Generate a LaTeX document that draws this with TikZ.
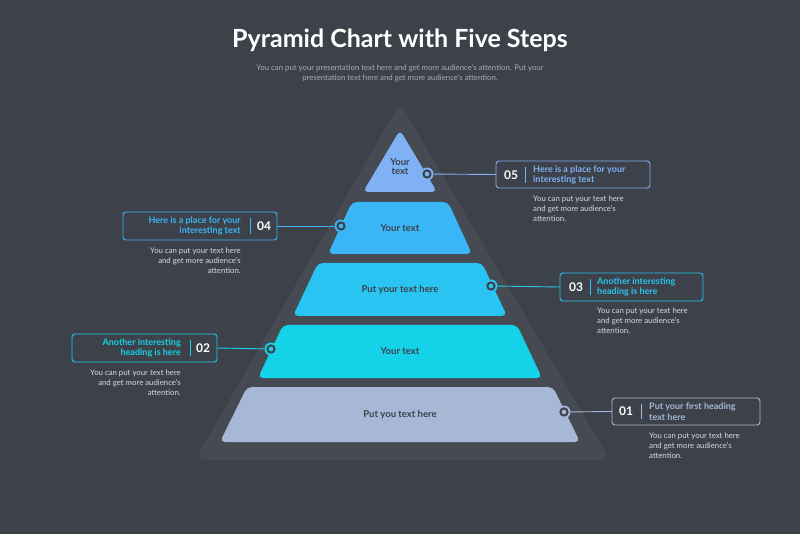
\documentclass[tikz,border=0pt]{standalone}
\usepackage{fontspec}
\setmainfont{Lato}
\definecolor{bg}{HTML}{3D4149}
\definecolor{sh}{HTML}{464B53}
\definecolor{cA}{HTML}{A6B8D6}
\definecolor{cB}{HTML}{14D3E8}
\definecolor{cC}{HTML}{2AC4F2}
\definecolor{cD}{HTML}{3AB6F6}
\definecolor{cE}{HTML}{80B1F5}
\definecolor{bodyc}{HTML}{D8DADD}
\definecolor{subc}{HTML}{A8ACB2}
\begin{document}
\begin{tikzpicture}[x=1pt,y=-1pt,
 lvl/.style={rounded corners=5pt},
 lbl/.style={font=\bfseries\fontsize{9.5}{11}\selectfont,text=bg,align=center},
 num/.style={font=\bfseries\fontsize{12}{14}\selectfont,text=white},
 head/.style={font=\bfseries\fontsize{9}{10.5}\selectfont,inner sep=0pt},
 body/.style={font=\fontsize{7.8}{10}\selectfont,text=bodyc,inner sep=0pt},
 cbox/.style={rounded corners=3pt,line width=0.9pt},
 mk/.style={circle,inner sep=0pt,minimum size=13pt},
]
\fill[bg] (0,0) rectangle (800,534);
\useasboundingbox (0,0) rectangle (800,534);
\node[font=\bfseries\fontsize{25}{28}\selectfont,text=white] (title) at (400,40) {Pyramid Chart with Five Steps};
\node[font=\fontsize{7.8}{10}\selectfont,text=subc,align=center] (sub) at (400,73) {You can put your presentation text here and get more audience's attention. Put your\\presentation text here and get more audience's attention.};
% shadow
\fill[sh,rounded corners=10pt] (400,103) -- (610,460) -- (195,460) -- cycle;
% levels
\fill[cE,lvl] (400,130) -- (437,192) -- (363,192) -- cycle;
\fill[cD,lvl] (352,202) -- (448,202) -- (472,254) -- (328,254) -- cycle;
\fill[cC,lvl] (318,263) -- (482,263) -- (507,316) -- (293,316) -- cycle;
\fill[cB,lvl] (283,325) -- (517,325) -- (542,378) -- (258,378) -- cycle;
\fill[cA,lvl] (247,387) -- (553,387) -- (580,442) -- (220,442) -- cycle;
\node[lbl] (t5) at (400,167) {Your\\[-2pt]text};
\node[lbl] (t4) at (400,228) {Your text};
\node[lbl] (t3) at (400,290) {Put your text here};
\node[lbl] (t2) at (400,351) {Your text};
\node[lbl] (t1) at (400,415) {Put you text here};
% markers
\foreach \n/\x/\y/\c in {m5/427/174/cE,m4/341/226/cD,m3/491/286/cC,m2/271/349/cB,m1/564/412/cA}{
 \node[mk,fill=\c] (\n) at (\x,\y) {};
 \draw[bg,line width=2pt] (\x,\y) circle (3.6pt);
}
% boxes
\draw[cE,cbox] (496,161) rectangle (650,188); \coordinate (b5) at (496,174.5);
\draw[cD,cbox] (123,212) rectangle (277,240); \coordinate (b4) at (277,226);
\draw[cC,cbox] (560,273) rectangle (703,301); \coordinate (b3) at (560,287);
\draw[cB,cbox] (72,334) rectangle (217,362); \coordinate (b2) at (217,348);
\draw[cA,cbox] (612,398) rectangle (760,425); \coordinate (b1) at (612,411.5);
\draw[cE,line width=0.9pt] (m5) -- (b5);
\draw[cD,line width=0.9pt] (m4) -- (b4);
\draw[cC,line width=0.9pt] (m3) -- (b3);
\draw[cB,line width=0.9pt] (m2) -- (b2);
\draw[cA,line width=0.9pt] (m1) -- (b1);
% separators
\draw[cE] (525,167) -- (525,183);
\draw[cD] (250,218) -- (250,234);
\draw[cC] (590,279) -- (590,295);
\draw[cB] (190,340) -- (190,356);
\draw[cA] (641,404) -- (641,419);
% numbers
\node[num] (n5) at (511,175) {05};
\node[num] (n4) at (264,226) {04};
\node[num] (n3) at (576,287) {03};
\node[num] (n2) at (203,348) {02};
\node[num] (n1) at (626,411.5) {01};
% headings
\node[head,text=cE,anchor=west,align=left] (h5) at (533,175) {Here is a place for your\\interesting text};
\node[head,text=cD,anchor=east,align=right] (h4) at (241,226) {Here is a place for your\\interesting text};
\node[head,text=cC,anchor=west,align=left] (h3) at (597,287) {Another interesting\\heading is here};
\node[head,text=cB,anchor=east,align=right] (h2) at (181,348) {Another interesting\\heading is here};
\node[head,text=cA,anchor=west,align=left] (h1) at (649,411.5) {Put your first heading\\text here};
% bodies
\node[body,anchor=north west,align=left] (d5) at (533,196) {You can put your text here\\and get more audience's\\attention.};
\node[body,anchor=north east,align=right] (d4) at (241,248) {You can put your text here\\and get more audience's\\attention.};
\node[body,anchor=north west,align=left] (d3) at (597,308) {You can put your text here\\and get more audience's\\attention.};
\node[body,anchor=north east,align=right] (d2) at (181,370) {You can put your text here\\and get more audience's\\attention.};
\node[body,anchor=north west,align=left] (d1) at (649,433) {You can put your text here\\and get more audience's\\attention.};
\end{tikzpicture}
\end{document}
